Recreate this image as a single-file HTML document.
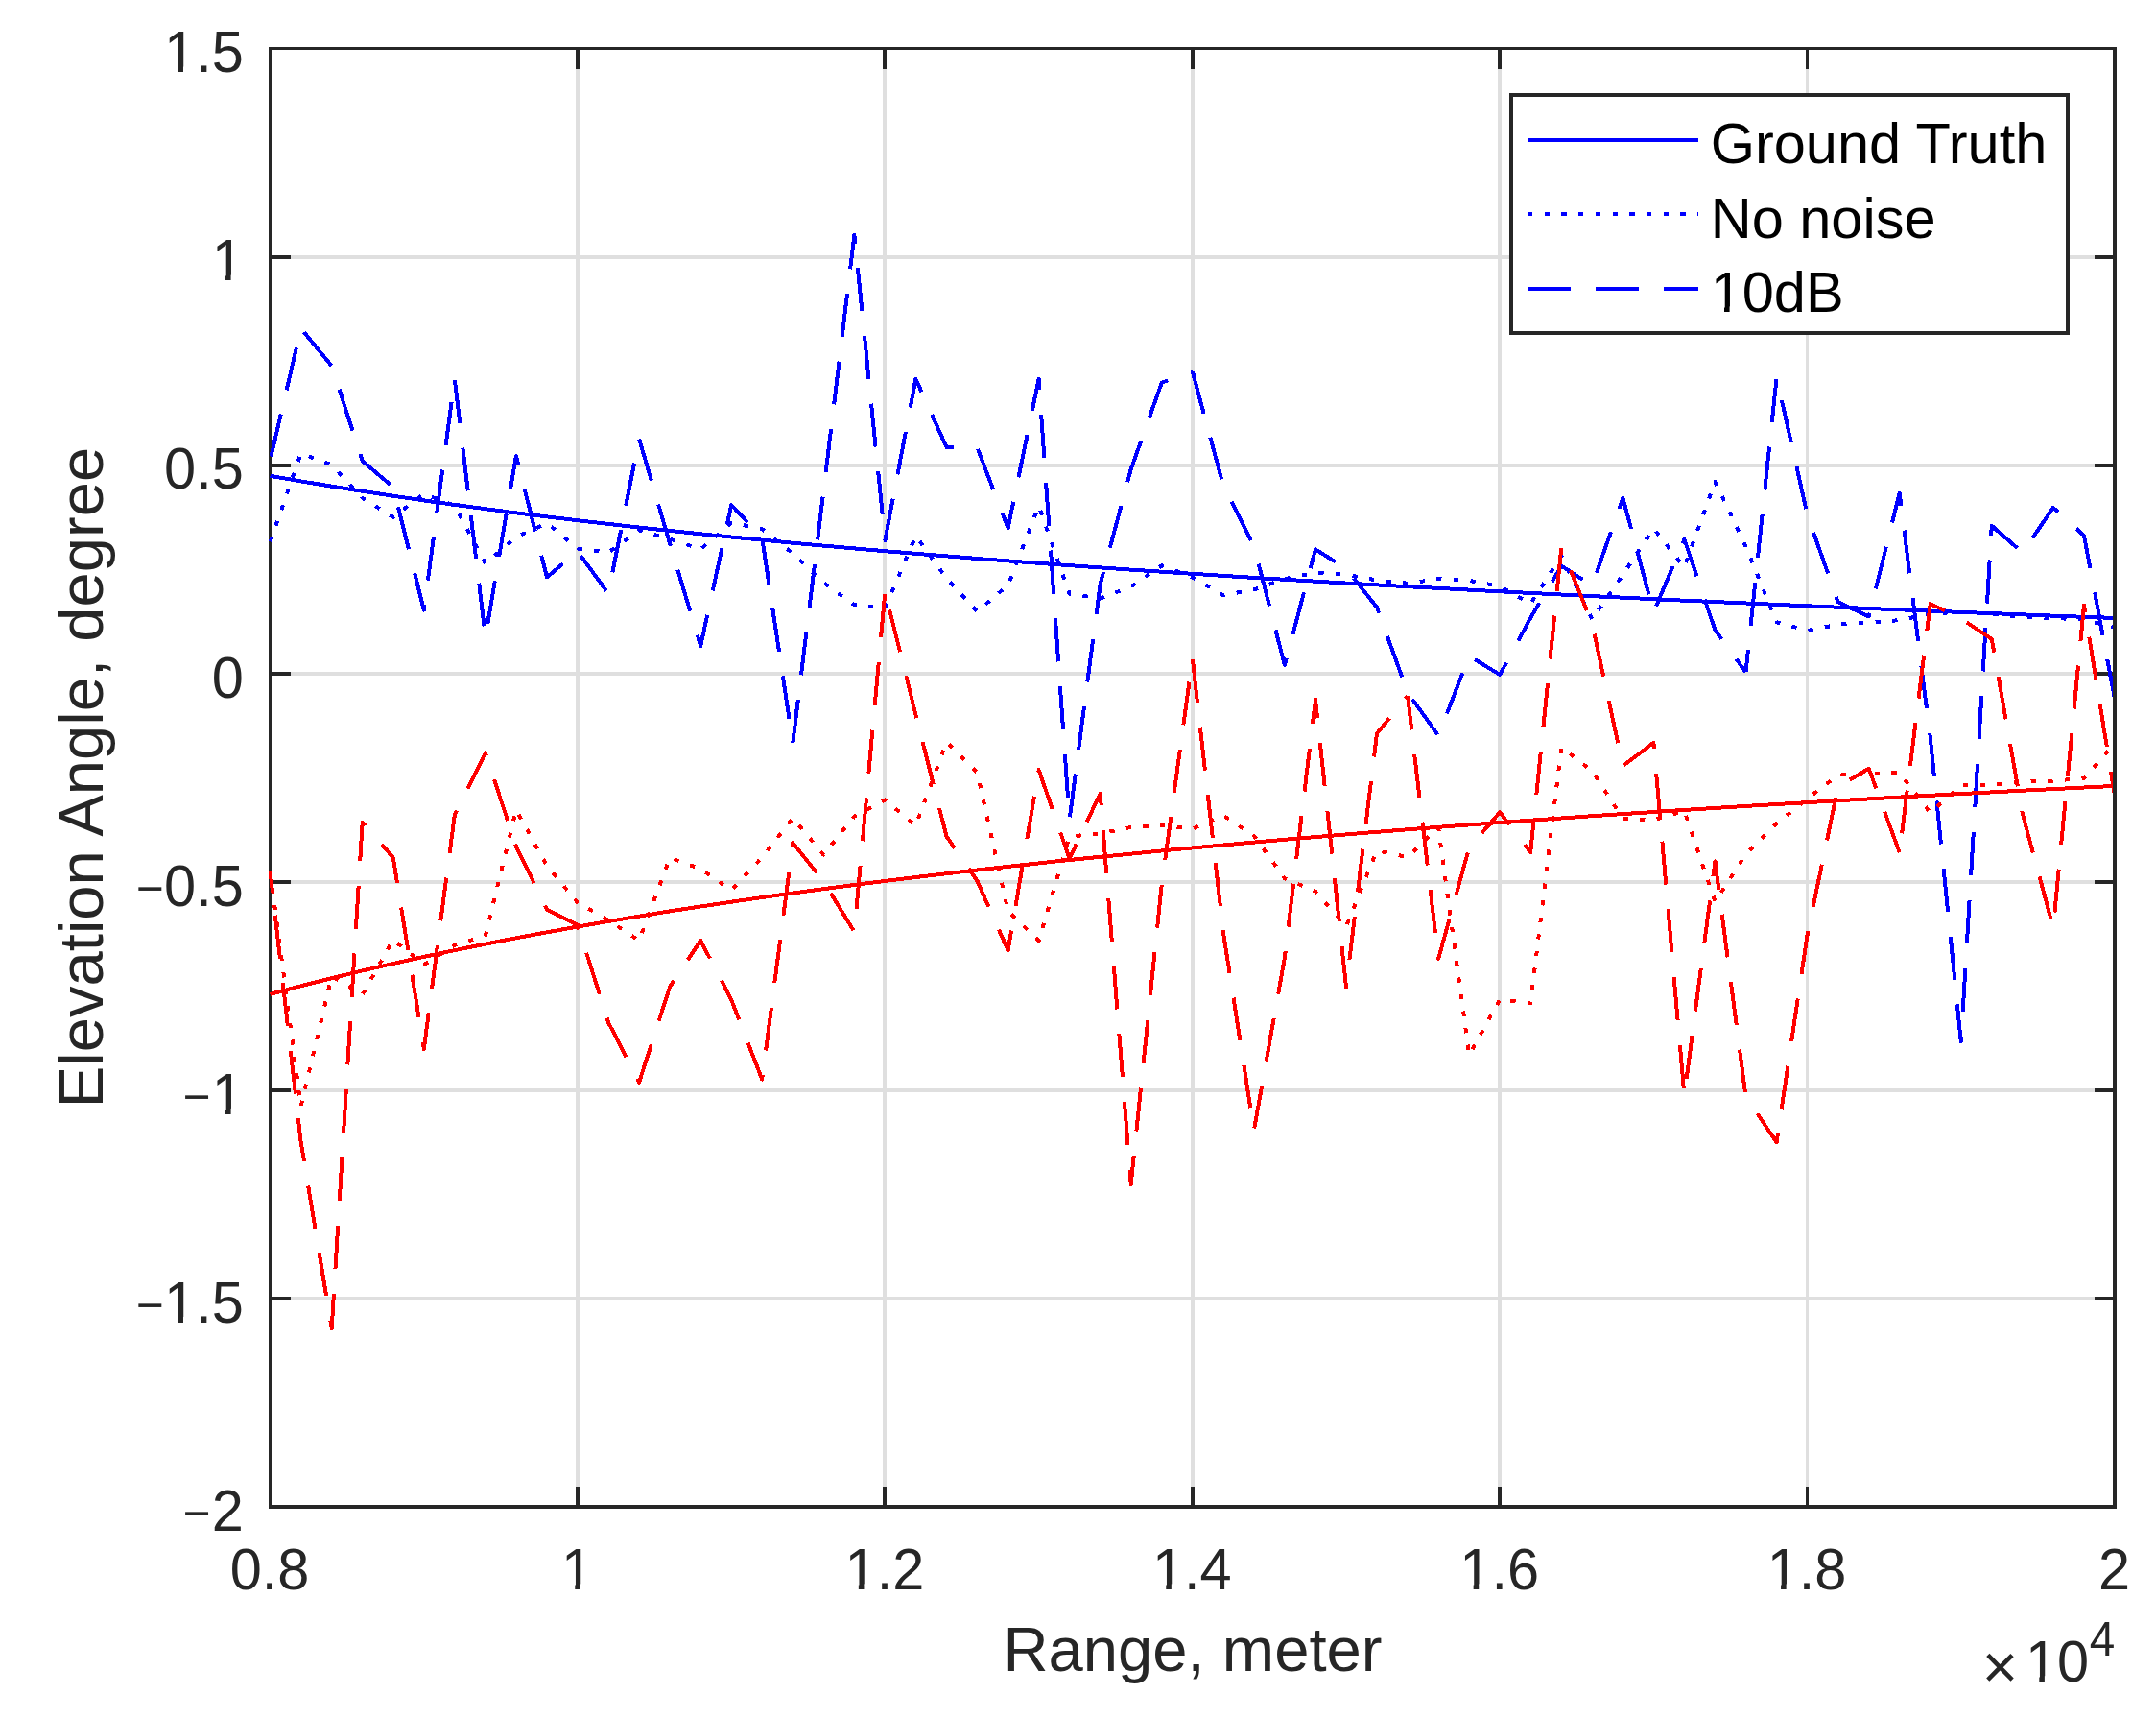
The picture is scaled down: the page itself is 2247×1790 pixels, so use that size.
<!DOCTYPE html>
<html lang="en"><head><meta charset="utf-8"><title>Elevation Angle vs Range</title>
<style>html,body{margin:0;padding:0;background:#fff}svg{display:block}text{font-family:"Liberation Sans",Arial,Helvetica,sans-serif;fill:#262626}</style></head><body>
<svg xmlns="http://www.w3.org/2000/svg" width="2247" height="1790" viewBox="0 0 2247 1790">
<rect x="0" y="0" width="2247" height="1790" fill="#fff"/>
<g shape-rendering="crispEdges">
<rect x="600" y="52" width="4" height="1516" fill="#dfdfdf"/>
<rect x="920" y="52" width="4" height="1516" fill="#dfdfdf"/>
<rect x="1241" y="52" width="4" height="1516" fill="#dfdfdf"/>
<rect x="1561" y="52" width="4" height="1516" fill="#dfdfdf"/>
<rect x="1882" y="52" width="3" height="1516" fill="#dfdfdf"/>
<rect x="283" y="266" width="1919" height="4" fill="#dfdfdf"/>
<rect x="283" y="483" width="1919" height="4" fill="#dfdfdf"/>
<rect x="283" y="700" width="1919" height="4" fill="#dfdfdf"/>
<rect x="283" y="917" width="1919" height="4" fill="#dfdfdf"/>
<rect x="283" y="1134" width="1919" height="4" fill="#dfdfdf"/>
<rect x="283" y="1351" width="1919" height="4" fill="#dfdfdf"/>
</g>
<g shape-rendering="crispEdges">
<rect x="280" y="49" width="3" height="1523" fill="#262626"/>
<rect x="280" y="1568" width="1926" height="4" fill="#262626"/>
<rect x="600" y="49" width="4" height="23" fill="#262626"/>
<rect x="600" y="1549" width="4" height="23" fill="#262626"/>
<rect x="920" y="49" width="4" height="23" fill="#262626"/>
<rect x="920" y="1549" width="4" height="23" fill="#262626"/>
<rect x="1241" y="49" width="4" height="23" fill="#262626"/>
<rect x="1241" y="1549" width="4" height="23" fill="#262626"/>
<rect x="1561" y="49" width="4" height="23" fill="#262626"/>
<rect x="1561" y="1549" width="4" height="23" fill="#262626"/>
<rect x="1882" y="49" width="3" height="23" fill="#262626"/>
<rect x="1882" y="1549" width="3" height="23" fill="#262626"/>
<rect x="280" y="266" width="23" height="4" fill="#262626"/>
<rect x="2183" y="266" width="23" height="4" fill="#262626"/>
<rect x="280" y="483" width="23" height="4" fill="#262626"/>
<rect x="2183" y="483" width="23" height="4" fill="#262626"/>
<rect x="280" y="700" width="23" height="4" fill="#262626"/>
<rect x="2183" y="700" width="23" height="4" fill="#262626"/>
<rect x="280" y="917" width="23" height="4" fill="#262626"/>
<rect x="2183" y="917" width="23" height="4" fill="#262626"/>
<rect x="280" y="1134" width="23" height="4" fill="#262626"/>
<rect x="2183" y="1134" width="23" height="4" fill="#262626"/>
<rect x="280" y="1351" width="23" height="4" fill="#262626"/>
<rect x="2183" y="1351" width="23" height="4" fill="#262626"/>
</g>
<clipPath id="c"><rect x="280" y="50" width="1924" height="1520"/></clipPath>
<g clip-path="url(#c)" shape-rendering="crispEdges">
<polyline points="281.6,495.8 313.6,501.4 345.7,506.7 377.7,511.8 409.8,516.7 441.8,521.4 473.8,525.9 505.9,530.2 537.9,534.4 570.0,538.4 602.0,542.2 634.0,545.9 666.1,549.5 698.1,553.0 730.2,556.3 762.2,559.5 794.2,562.6 826.3,565.7 858.3,568.6 890.4,571.4 922.4,574.2 954.4,576.8 986.5,579.4 1018.5,582.0 1050.6,584.4 1082.6,586.8 1114.6,589.1 1146.7,591.4 1178.7,593.6 1210.8,595.7 1242.8,597.8 1274.8,599.9 1306.9,601.9 1338.9,603.8 1371.0,605.7 1403.0,607.6 1435.0,609.4 1467.1,611.2 1499.1,612.9 1531.2,614.6 1563.2,616.3 1595.2,617.9 1627.3,619.5 1659.3,621.1 1691.4,622.7 1723.4,624.2 1755.4,625.7 1787.5,627.1 1819.5,628.5 1851.6,629.9 1883.6,631.3 1915.6,632.7 1947.7,634.0 1979.7,635.3 2011.8,636.6 2043.8,637.9 2075.8,639.1 2107.9,640.4 2139.9,641.6 2172.0,642.8 2204.0,643.9" fill="none" stroke="#0000ff" stroke-width="4" stroke-linejoin="round"/>
<polyline points="281.6,564.5 313.6,472.5 345.7,484.2 377.7,518.9 409.8,538.9 441.8,514.6 473.8,526.8 505.9,587.1 537.9,559.7 570.0,545.0 602.0,571.5 634.0,575.8 666.1,552.4 698.1,561.5 730.2,572.3 762.2,544.6 794.2,551.1 826.3,576.7 858.3,607.1 890.4,630.3 922.4,633.6 954.4,558.4 986.5,602.7 1018.5,637.0 1050.6,609.7 1082.6,527.2 1114.6,618.8 1146.7,623.6 1178.7,611.2 1210.8,589.3 1242.8,601.4 1274.8,620.1 1306.9,614.4 1338.9,603.2 1371.0,596.6 1403.0,598.8 1435.0,604.5 1467.1,607.7 1499.1,603.2 1531.2,604.9 1563.2,610.8 1595.2,629.0 1627.3,579.3 1659.3,645.3 1691.4,598.8 1723.4,550.6 1755.4,591.0 1787.5,502.0 1819.5,569.3 1851.6,648.3 1883.6,657.0 1915.6,650.7 1947.7,648.7 1979.7,646.1 2011.8,639.6 2043.8,637.5 2075.8,639.6 2107.9,642.7 2139.9,644.0 2172.0,645.5 2204.0,654.0" fill="none" stroke="#0000ff" stroke-width="4" stroke-linejoin="round" stroke-dasharray="5.3 12.4"/>
<polyline points="281.6,479.4 313.6,342.2 345.7,381.3 377.7,480.3 409.8,507.6 441.8,635.7 473.8,394.8 505.9,663.9 537.9,475.1 570.0,601.4 602.0,574.5 634.0,618.4 666.1,457.3 698.1,566.3 730.2,673.1 762.2,526.1 794.2,560.2 826.3,774.2 858.3,512.0 890.4,244.6 922.4,563.0 954.4,394.8 986.5,466.0 1018.5,466.4 1050.6,550.2 1082.6,394.8 1114.6,854.1 1146.7,608.4 1178.7,489.0 1210.8,398.7 1242.8,387.0" fill="none" stroke="#0000ff" stroke-width="4" stroke-linejoin="round" stroke-dasharray="45.2 25.8" stroke-dashoffset="67.0"/>
<polyline points="1242.8,387.0 1274.8,505.5 1306.9,569.1 1338.9,693.0 1371.0,572.3 1403.0,592.5 1435.0,632.7 1467.1,721.7 1499.1,766.4 1531.2,683.5 1563.2,703.0 1595.2,643.8 1627.3,589.7 1659.3,610.1 1691.4,518.7 1723.4,637.9 1755.4,561.9 1787.5,656.6 1819.5,700.4" fill="none" stroke="#0000ff" stroke-width="4" stroke-linejoin="round" stroke-dasharray="45.2 25.8" stroke-dashoffset="70.8"/>
<polyline points="1819.5,700.4 1851.6,393.3 1883.6,536.3 1915.6,627.3 1947.7,642.4 1979.7,513.7 2011.8,768.6 2043.8,1085.5 2075.8,547.8 2107.9,575.8 2139.9,528.9 2172.0,558.0 2204.0,728.2" fill="none" stroke="#0000ff" stroke-width="4" stroke-linejoin="round" stroke-dasharray="45.2 25.8" stroke-dashoffset="22.0"/>
<polyline points="281.6,1035.9 313.6,1027.3 345.7,1019.2 377.7,1011.4 409.8,1004.0 441.8,996.9 473.8,990.1 505.9,983.6 537.9,977.3 570.0,971.3 602.0,965.5 634.0,960.0 666.1,954.6 698.1,949.4 730.2,944.5 762.2,939.7 794.2,935.0 826.3,930.5 858.3,926.2 890.4,922.0 922.4,917.9 954.4,914.0 986.5,910.2 1018.5,906.5 1050.6,902.9 1082.6,899.4 1114.6,896.0 1146.7,892.8 1178.7,889.6 1210.8,886.4 1242.8,883.4 1274.8,880.5 1306.9,877.6 1338.9,874.8 1371.0,872.1 1403.0,869.4 1435.0,866.8 1467.1,864.3 1499.1,861.8 1531.2,859.4 1563.2,857.0 1595.2,854.7 1627.3,852.5 1659.3,850.2 1691.4,848.1 1723.4,846.0 1755.4,843.9 1787.5,841.9 1819.5,839.9 1851.6,838.0 1883.6,836.1 1915.6,834.2 1947.7,832.4 1979.7,830.6 2011.8,828.8 2043.8,827.1 2075.8,825.4 2107.9,823.7 2139.9,822.1 2172.0,820.5 2204.0,818.9" fill="none" stroke="#ff0000" stroke-width="4" stroke-linejoin="round"/>
<polyline points="281.6,907.9 313.6,1152.8 345.7,1016.9 377.7,1036.4 409.8,979.1 441.8,1005.2 473.8,984.8 505.9,975.0 537.9,843.7 570.0,902.1 602.0,940.5 634.0,958.7 666.1,980.0 698.1,893.6 730.2,905.3 762.2,927.5 794.2,893.4 826.3,852.4 858.3,890.6 890.4,850.6 922.4,833.5 954.4,860.2 986.5,773.1 1018.5,804.8 1050.6,949.6 1082.6,980.0 1114.6,871.5 1146.7,868.6 1178.7,861.9 1210.8,859.5 1242.8,863.6 1274.8,849.5 1306.9,870.8 1338.9,915.1 1371.0,928.8 1403.0,965.2 1435.0,886.2 1467.1,893.2 1499.1,861.9 1531.2,1099.4 1563.2,1041.2 1595.2,1045.5 1627.3,778.6 1659.3,803.3 1691.4,852.8 1723.4,854.5 1755.4,844.8 1787.5,939.6 1819.5,890.1 1851.6,858.0 1883.6,832.2 1915.6,807.6 1947.7,806.6 1979.7,805.0 2011.8,846.9 2043.8,818.3 2075.8,817.8 2107.9,814.4 2139.9,813.5 2172.0,811.1 2204.0,774.6" fill="none" stroke="#ff0000" stroke-width="4" stroke-linejoin="round" stroke-dasharray="5.3 12.4"/>
<polyline points="281.6,907.9 313.6,1189.7 345.7,1384.2 377.7,856.5 409.8,893.6 441.8,1092.9 473.8,849.3 505.9,784.2 537.9,881.9 570.0,947.7 602.0,963.7 634.0,1065.1 666.1,1127.6 698.1,1028.2 730.2,980.0 762.2,1041.6 794.2,1124.6 826.3,878.2 858.3,918.3 890.4,970.9 922.4,616.6" fill="none" stroke="#ff0000" stroke-width="4" stroke-linejoin="round" stroke-dasharray="45.2 25.8" stroke-dashoffset="25.0"/>
<polyline points="922.4,616.6 954.4,744.7 986.5,871.5 1018.5,917.9 1050.6,990.4 1082.6,802.2 1114.6,894.5 1146.7,826.7 1178.7,1234.0 1210.8,921.0 1242.8,686.1 1274.8,970.4 1306.9,1177.7 1338.9,997.8 1371.0,728.8 1403.0,1028.2 1435.0,764.2 1467.1,725.2" fill="none" stroke="#ff0000" stroke-width="4" stroke-linejoin="round" stroke-dasharray="45.2 25.8" stroke-dashoffset="51.6"/>
<polyline points="1467.1,725.2 1499.1,999.1 1531.2,883.2 1563.2,846.3 1595.2,888.2 1627.3,570.6 1659.3,649.6 1691.4,798.1 1723.4,773.8 1755.4,1141.1" fill="none" stroke="#ff0000" stroke-width="4" stroke-linejoin="round" stroke-dasharray="45.2 25.8" stroke-dashoffset="9.7"/>
<polyline points="1755.4,1141.1 1787.5,897.5 1819.5,1142.6 1851.6,1190.1 1883.6,973.9 1915.6,820.0 1947.7,800.7 1979.7,888.2" fill="none" stroke="#ff0000" stroke-width="4" stroke-linejoin="round" stroke-dasharray="45.2 25.8" stroke-dashoffset="53.7"/>
<polyline points="1979.7,888.2 2011.8,629.0 2043.8,644.6 2075.8,665.9 2107.9,848.0 2139.9,966.5 2172.0,630.5 2204.0,828.9" fill="none" stroke="#ff0000" stroke-width="4" stroke-linejoin="round" stroke-dasharray="45.2 25.8" stroke-dashoffset="51.1"/>
</g>
<g shape-rendering="crispEdges">
<rect x="280" y="49" width="1926" height="3" fill="#262626"/>
<rect x="2202" y="49" width="4" height="1523" fill="#262626"/>
</g>
<text transform="translate(253.8,75.3) scale(1,1.03)" font-size="59.5" text-anchor="end">1.5</text>
<text transform="translate(253.8,292.4) scale(1,1.03)" font-size="59.5" text-anchor="end">1</text>
<text transform="translate(253.8,509.4) scale(1,1.03)" font-size="59.5" text-anchor="end">0.5</text>
<text transform="translate(253.8,726.5) scale(1,1.03)" font-size="59.5" text-anchor="end">0</text>
<text transform="translate(253.8,943.6) scale(1,1.03)" font-size="59.5" text-anchor="end"><tspan x="-83.1" dy="-0.9" font-size="49.3">−</tspan><tspan x="0" dy="0.9">0.5</tspan></text>
<text transform="translate(253.8,1160.6) scale(1,1.03)" font-size="59.5" text-anchor="end"><tspan x="-34.2" dy="-0.9" font-size="49.3">−</tspan><tspan x="0" dy="0.9">1</tspan></text>
<text transform="translate(253.8,1377.7) scale(1,1.03)" font-size="59.5" text-anchor="end"><tspan x="-83.1" dy="-0.9" font-size="49.3">−</tspan><tspan x="0" dy="0.9">1.5</tspan></text>
<text transform="translate(253.8,1594.8) scale(1,1.03)" font-size="59.5" text-anchor="end"><tspan x="-34.2" dy="-0.9" font-size="49.3">−</tspan><tspan x="0" dy="0.9">2</tspan></text>
<text transform="translate(281.1,1656.2) scale(1,1.03)" font-size="59.5" text-anchor="middle">0.8</text>
<text transform="translate(601.5,1656.2) scale(1,1.03)" font-size="59.5" text-anchor="middle">1</text>
<text transform="translate(921.9,1656.2) scale(1,1.03)" font-size="59.5" text-anchor="middle">1.2</text>
<text transform="translate(1242.3,1656.2) scale(1,1.03)" font-size="59.5" text-anchor="middle">1.4</text>
<text transform="translate(1562.7,1656.2) scale(1,1.03)" font-size="59.5" text-anchor="middle">1.6</text>
<text transform="translate(1883.1,1656.2) scale(1,1.03)" font-size="59.5" text-anchor="middle">1.8</text>
<text transform="translate(2203.5,1656.2) scale(1,1.03)" font-size="59.5" text-anchor="middle">2</text>
<text x="1243" y="1741" font-size="65.2" text-anchor="middle">Range, meter</text>
<text transform="translate(107,810) rotate(-90)" font-size="65.2" text-anchor="middle">Elevation Angle, degree</text>
<text x="2065.8" y="1759.3" font-size="64">×</text>
<text transform="translate(2111,1752) scale(1,1.03)" font-size="59.5">10</text>
<text transform="translate(2177.7,1724.6) scale(1,1.03)" font-size="47.6">4</text>
<g shape-rendering="crispEdges">
<rect x="1573" y="97" width="584" height="252" fill="#262626"/>
<rect x="1577" y="101" width="576" height="244" fill="#fff"/>
<line x1="1592" y1="146" x2="1770" y2="146" stroke="#0000ff" stroke-width="4"/>
<line x1="1592" y1="223" x2="1770" y2="223" stroke="#0000ff" stroke-width="4" stroke-dasharray="5.3 12.4"/>
<line x1="1592" y1="301" x2="1770" y2="301" stroke="#0000ff" stroke-width="4" stroke-dasharray="45.2 25.8"/>
</g>
<text x="1782.7" y="169.6" font-size="59.5" style="fill:#000">Ground Truth</text>
<text x="1782.7" y="247.6" font-size="59.5" style="fill:#000">No noise</text>
<text x="1782.7" y="325" font-size="59.5" style="fill:#000">10dB</text>
<g><rect x="173.69" y="69.53" width="11.7" height="6.67" fill="#fff"/><rect x="190.99" y="69.53" width="12.2" height="6.67" fill="#fff"/><rect x="223.31" y="286.60" width="11.7" height="6.67" fill="#fff"/><rect x="240.61" y="286.60" width="12.2" height="6.67" fill="#fff"/><rect x="223.31" y="1154.88" width="11.7" height="6.67" fill="#fff"/><rect x="240.61" y="1154.88" width="12.2" height="6.67" fill="#fff"/><rect x="173.69" y="1371.95" width="11.7" height="6.67" fill="#fff"/><rect x="190.99" y="1371.95" width="12.2" height="6.67" fill="#fff"/><rect x="587.55" y="1650.43" width="11.7" height="6.67" fill="#fff"/><rect x="604.85" y="1650.43" width="12.2" height="6.67" fill="#fff"/><rect x="883.14" y="1650.43" width="11.7" height="6.67" fill="#fff"/><rect x="900.44" y="1650.43" width="12.2" height="6.67" fill="#fff"/><rect x="1203.54" y="1650.43" width="11.7" height="6.67" fill="#fff"/><rect x="1220.84" y="1650.43" width="12.2" height="6.67" fill="#fff"/><rect x="1523.94" y="1650.43" width="11.7" height="6.67" fill="#fff"/><rect x="1541.24" y="1650.43" width="12.2" height="6.67" fill="#fff"/><rect x="1844.34" y="1650.43" width="11.7" height="6.67" fill="#fff"/><rect x="1861.64" y="1650.43" width="12.2" height="6.67" fill="#fff"/><rect x="2113.60" y="1746.23" width="11.7" height="6.67" fill="#fff"/><rect x="2130.90" y="1746.23" width="12.2" height="6.67" fill="#fff"/><rect x="1785.30" y="319.40" width="11.7" height="6.50" fill="#fff"/><rect x="1802.60" y="319.40" width="12.2" height="6.50" fill="#fff"/></g>
</svg></body></html>
